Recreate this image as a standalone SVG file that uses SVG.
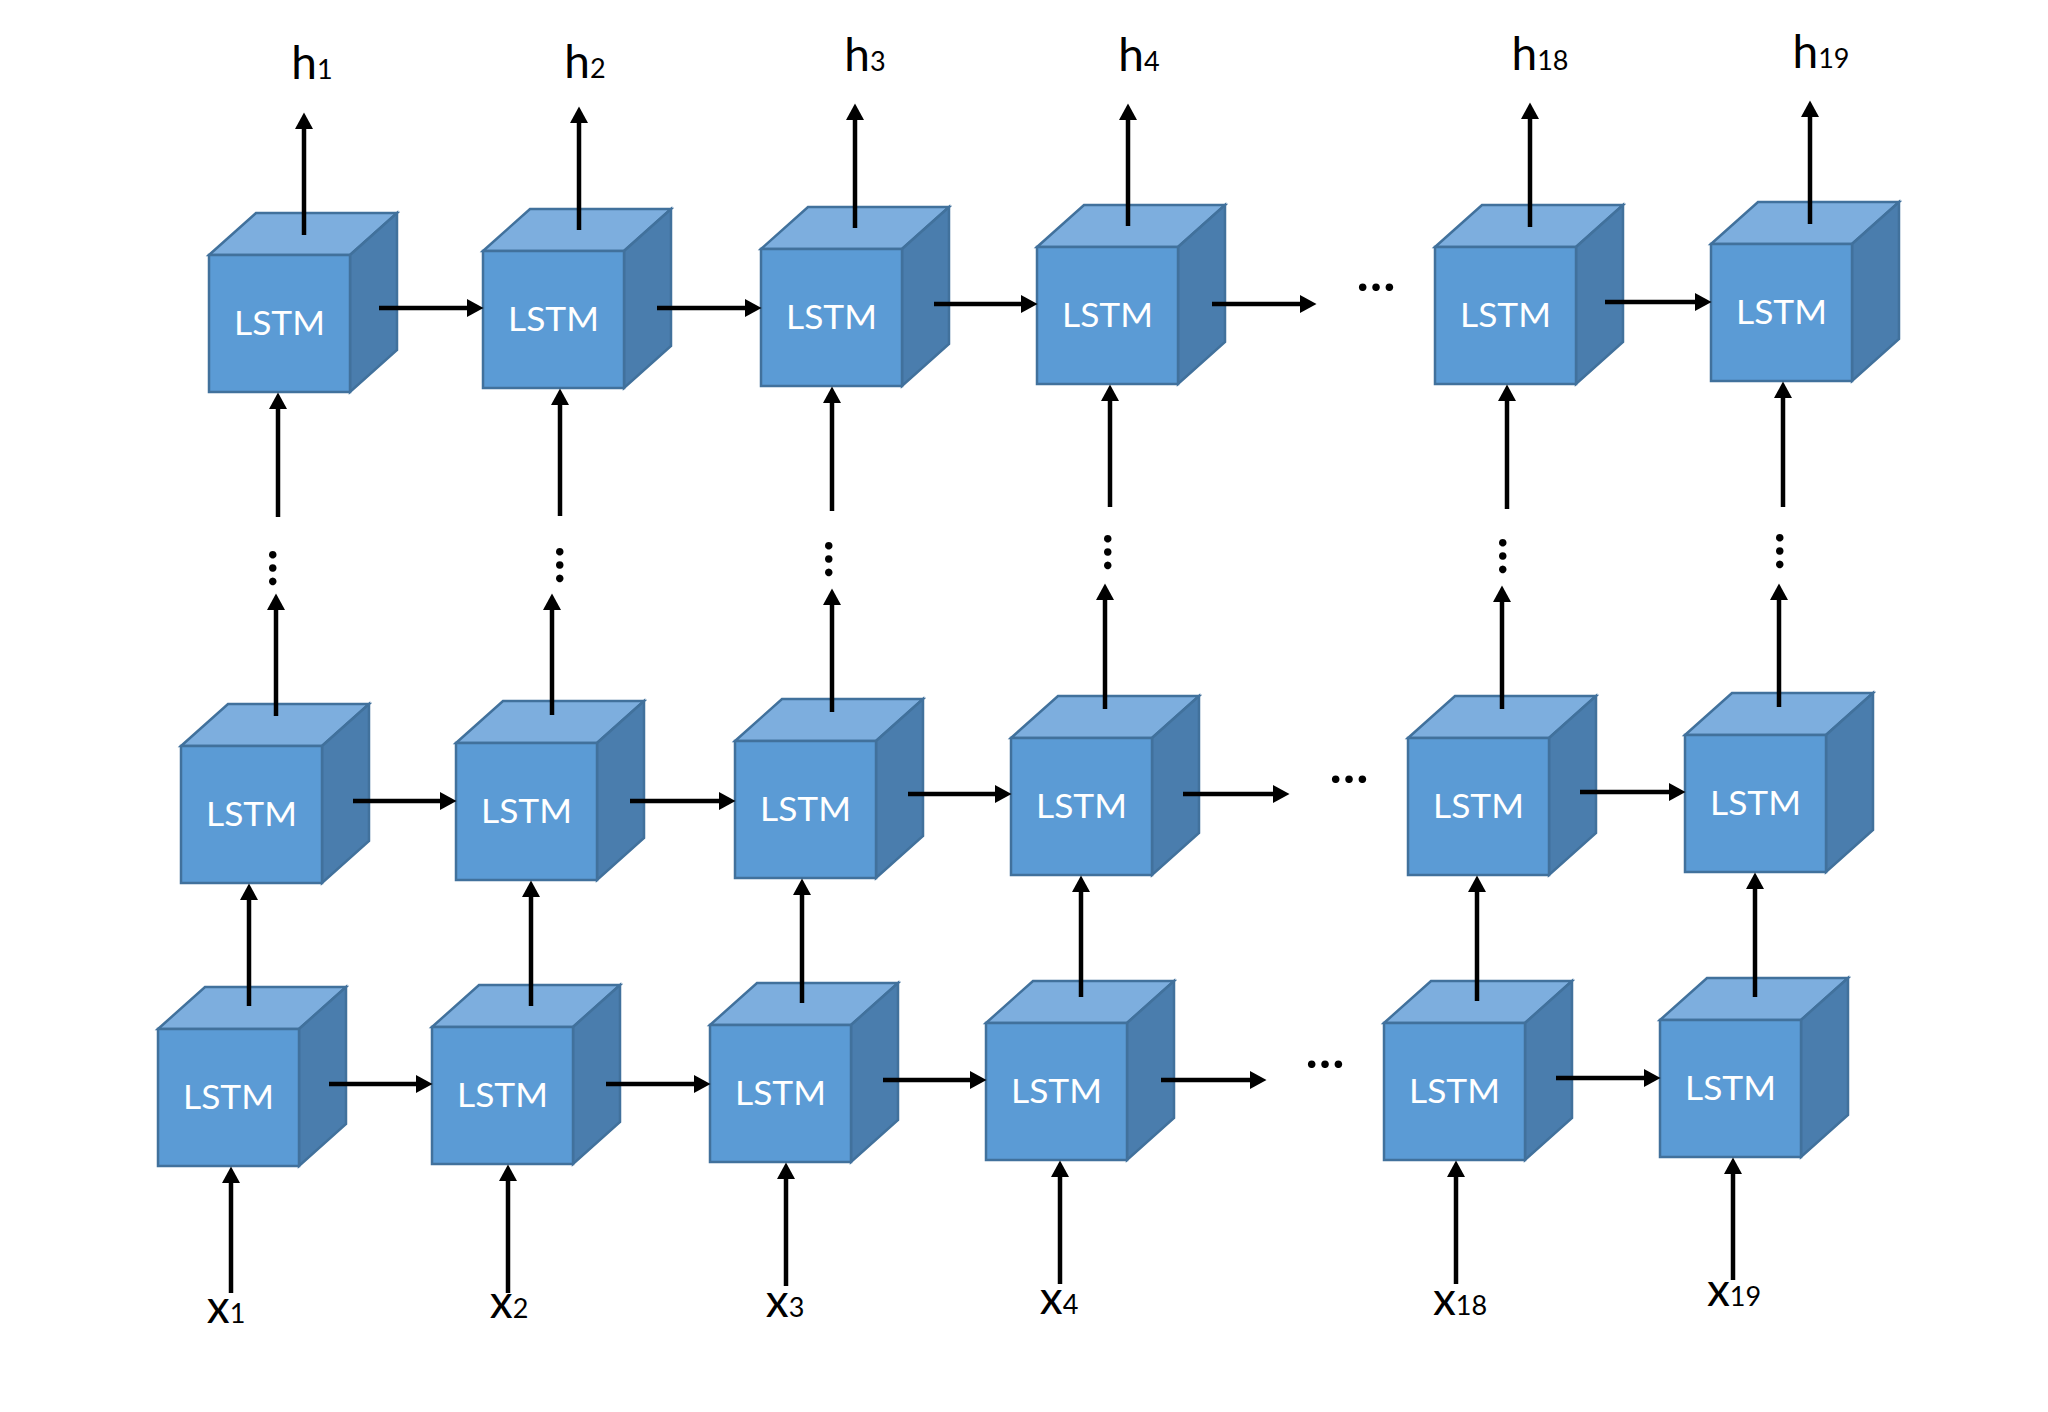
<svg xmlns="http://www.w3.org/2000/svg" width="2048" height="1412" viewBox="0 0 2048 1412">
<defs>
<style>
.front{fill:#5B9BD5;stroke:#41719C;stroke-width:2.5;stroke-linejoin:miter}
.top{fill:#7DAEDE;stroke:#41719C;stroke-width:2.5;stroke-linejoin:miter}
.side{fill:#4A7DAD;stroke:#41719C;stroke-width:2.5;stroke-linejoin:miter}
.cell{font-family:Lato,"Liberation Sans",sans-serif;font-size:33px;fill:#FFFFFF;text-anchor:middle}
.lbl{font-family:Lato,"Liberation Sans",sans-serif;font-size:46px;fill:#000000;text-anchor:middle}
.sub{font-size:27px}
.dots{font-family:Lato,"Liberation Sans",sans-serif;font-size:50px;font-weight:bold;fill:#000000;text-anchor:middle}
.arr{stroke:#000000;stroke-width:4.5;fill:none;marker-end:url(#ah)}
</style>
<marker id="ah" markerUnits="userSpaceOnUse" markerWidth="19" markerHeight="19" refX="5" refY="9" orient="auto">
<path d="M0,0 L16.5,9 L0,18 z" fill="#000000"/>
</marker>
<g id="cube">
<polygon class="top" points="0,0 47,-42 188,-42 141,0"/>
<polygon class="side" points="141,0 188,-42 188,95 141,137"/>
<rect class="front" x="0" y="0" width="141" height="137"/>
</g>
</defs>
<rect x="0" y="0" width="2048" height="1412" fill="#FFFFFF"/>

<g id="layer3">
<g id="t1" transform="translate(209,255)"><use href="#cube"/><text class="cell" x="70.5" y="80" textLength="91" lengthAdjust="spacingAndGlyphs">LSTM</text></g>
<g id="t2" transform="translate(483,251)"><use href="#cube"/><text class="cell" x="70.5" y="80" textLength="91" lengthAdjust="spacingAndGlyphs">LSTM</text></g>
<g id="t3" transform="translate(761,249)"><use href="#cube"/><text class="cell" x="70.5" y="80" textLength="91" lengthAdjust="spacingAndGlyphs">LSTM</text></g>
<g id="t4" transform="translate(1037,247)"><use href="#cube"/><text class="cell" x="70.5" y="80" textLength="91" lengthAdjust="spacingAndGlyphs">LSTM</text></g>
<g id="t18" transform="translate(1435,247)"><use href="#cube"/><text class="cell" x="70.5" y="80" textLength="91" lengthAdjust="spacingAndGlyphs">LSTM</text></g>
<g id="t19" transform="translate(1711,244)"><use href="#cube"/><text class="cell" x="70.5" y="80" textLength="91" lengthAdjust="spacingAndGlyphs">LSTM</text></g>
</g>
<g id="layer2">
<g id="m1" transform="translate(181,746)"><use href="#cube"/><text class="cell" x="70.5" y="80" textLength="91" lengthAdjust="spacingAndGlyphs">LSTM</text></g>
<g id="m2" transform="translate(456,743)"><use href="#cube"/><text class="cell" x="70.5" y="80" textLength="91" lengthAdjust="spacingAndGlyphs">LSTM</text></g>
<g id="m3" transform="translate(735,741)"><use href="#cube"/><text class="cell" x="70.5" y="80" textLength="91" lengthAdjust="spacingAndGlyphs">LSTM</text></g>
<g id="m4" transform="translate(1011,738)"><use href="#cube"/><text class="cell" x="70.5" y="80" textLength="91" lengthAdjust="spacingAndGlyphs">LSTM</text></g>
<g id="m18" transform="translate(1408,738)"><use href="#cube"/><text class="cell" x="70.5" y="80" textLength="91" lengthAdjust="spacingAndGlyphs">LSTM</text></g>
<g id="m19" transform="translate(1685,735)"><use href="#cube"/><text class="cell" x="70.5" y="80" textLength="91" lengthAdjust="spacingAndGlyphs">LSTM</text></g>
</g>
<g id="layer1">
<g id="b1" transform="translate(158,1029)"><use href="#cube"/><text class="cell" x="70.5" y="80" textLength="91" lengthAdjust="spacingAndGlyphs">LSTM</text></g>
<g id="b2" transform="translate(432,1027)"><use href="#cube"/><text class="cell" x="70.5" y="80" textLength="91" lengthAdjust="spacingAndGlyphs">LSTM</text></g>
<g id="b3" transform="translate(710,1025)"><use href="#cube"/><text class="cell" x="70.5" y="80" textLength="91" lengthAdjust="spacingAndGlyphs">LSTM</text></g>
<g id="b4" transform="translate(986,1023)"><use href="#cube"/><text class="cell" x="70.5" y="80" textLength="91" lengthAdjust="spacingAndGlyphs">LSTM</text></g>
<g id="b18" transform="translate(1384,1023)"><use href="#cube"/><text class="cell" x="70.5" y="80" textLength="91" lengthAdjust="spacingAndGlyphs">LSTM</text></g>
<g id="b19" transform="translate(1660,1020)"><use href="#cube"/><text class="cell" x="70.5" y="80" textLength="91" lengthAdjust="spacingAndGlyphs">LSTM</text></g>
</g>

<g id="connectors">
<line class="arr" x1="304" y1="235" x2="304" y2="124"/>
<line class="arr" x1="579" y1="230" x2="579" y2="118"/>
<line class="arr" x1="855" y1="228" x2="855" y2="115"/>
<line class="arr" x1="1128" y1="226" x2="1128" y2="115"/>
<line class="arr" x1="1530" y1="227" x2="1530" y2="114"/>
<line class="arr" x1="1810" y1="224" x2="1810" y2="112"/>

<line class="arr" x1="379" y1="308" x2="472" y2="308"/>
<line class="arr" x1="657" y1="308" x2="750" y2="308"/>
<line class="arr" x1="934" y1="304" x2="1026" y2="304"/>
<line class="arr" x1="1212" y1="304" x2="1305" y2="304"/>
<line class="arr" x1="1605" y1="302" x2="1700" y2="302"/>

<line class="arr" x1="278" y1="517" x2="278" y2="404"/>
<line class="arr" x1="560" y1="516" x2="560" y2="400"/>
<line class="arr" x1="832" y1="511" x2="832" y2="398"/>
<line class="arr" x1="1110" y1="507" x2="1110" y2="396"/>
<line class="arr" x1="1507" y1="509" x2="1507" y2="396"/>
<line class="arr" x1="1783" y1="507" x2="1783" y2="393"/>

<line class="arr" x1="276" y1="716" x2="276" y2="605"/>
<line class="arr" x1="552" y1="715" x2="552" y2="605"/>
<line class="arr" x1="832" y1="712" x2="832" y2="600"/>
<line class="arr" x1="1105" y1="709" x2="1105" y2="595"/>
<line class="arr" x1="1502" y1="709" x2="1502" y2="597"/>
<line class="arr" x1="1779" y1="707" x2="1779" y2="595"/>

<line class="arr" x1="353" y1="801" x2="445" y2="801"/>
<line class="arr" x1="630" y1="801" x2="724" y2="801"/>
<line class="arr" x1="908" y1="794" x2="1000" y2="794"/>
<line class="arr" x1="1183" y1="794" x2="1278" y2="794"/>
<line class="arr" x1="1580" y1="792" x2="1674" y2="792"/>

<line class="arr" x1="249" y1="1006" x2="249" y2="895"/>
<line class="arr" x1="531" y1="1006" x2="531" y2="892"/>
<line class="arr" x1="802" y1="1003" x2="802" y2="890"/>
<line class="arr" x1="1081" y1="997" x2="1081" y2="887"/>
<line class="arr" x1="1477" y1="1001" x2="1477" y2="887"/>
<line class="arr" x1="1755" y1="997" x2="1755" y2="884"/>

<line class="arr" x1="329" y1="1084" x2="421" y2="1084"/>
<line class="arr" x1="606" y1="1084" x2="699" y2="1084"/>
<line class="arr" x1="883" y1="1080" x2="975" y2="1080"/>
<line class="arr" x1="1161" y1="1080" x2="1255" y2="1080"/>
<line class="arr" x1="1556" y1="1078" x2="1649" y2="1078"/>

<line class="arr" x1="231" y1="1293" x2="231" y2="1178"/>
<line class="arr" x1="508" y1="1293" x2="508" y2="1176"/>
<line class="arr" x1="786" y1="1286" x2="786" y2="1174"/>
<line class="arr" x1="1060" y1="1284" x2="1060" y2="1172"/>
<line class="arr" x1="1456" y1="1284" x2="1456" y2="1172"/>
<line class="arr" x1="1733" y1="1280" x2="1733" y2="1169"/>
</g>

<g id="outputs">
<text class="lbl" x="312" y="79">h<tspan class="sub">1</tspan></text>
<text class="lbl" x="585" y="78">h<tspan class="sub">2</tspan></text>
<text class="lbl" x="865" y="71">h<tspan class="sub">3</tspan></text>
<text class="lbl" x="1139" y="71">h<tspan class="sub">4</tspan></text>
<text class="lbl" x="1540" y="70">h<tspan class="sub">18</tspan></text>
<text class="lbl" x="1821" y="68">h<tspan class="sub">19</tspan></text>
</g>
<g id="inputs">
<text class="lbl" x="226" y="1323">x<tspan class="sub">1</tspan></text>
<text class="lbl" x="509" y="1318">x<tspan class="sub">2</tspan></text>
<text class="lbl" x="785" y="1317">x<tspan class="sub">3</tspan></text>
<text class="lbl" x="1059" y="1314">x<tspan class="sub">4</tspan></text>
<text class="lbl" x="1460" y="1315">x<tspan class="sub">18</tspan></text>
<text class="lbl" x="1734" y="1306">x<tspan class="sub">19</tspan></text>
</g>
<g id="ellipses">
<text class="dots" x="1376" y="291">…</text>
<text class="dots" x="1349" y="783">…</text>
<text class="dots" x="1325" y="1068">…</text>
<text class="dots" x="272" y="571" transform="rotate(90 272 568)">…</text>
<text class="dots" x="559" y="568" transform="rotate(90 559 565)">…</text>
<text class="dots" x="828" y="562" transform="rotate(90 828 559)">…</text>
<text class="dots" x="1107" y="555" transform="rotate(90 1107 552)">…</text>
<text class="dots" x="1502" y="559" transform="rotate(90 1502 556)">…</text>
<text class="dots" x="1779" y="554" transform="rotate(90 1779 551)">…</text>
</g>
</svg>
